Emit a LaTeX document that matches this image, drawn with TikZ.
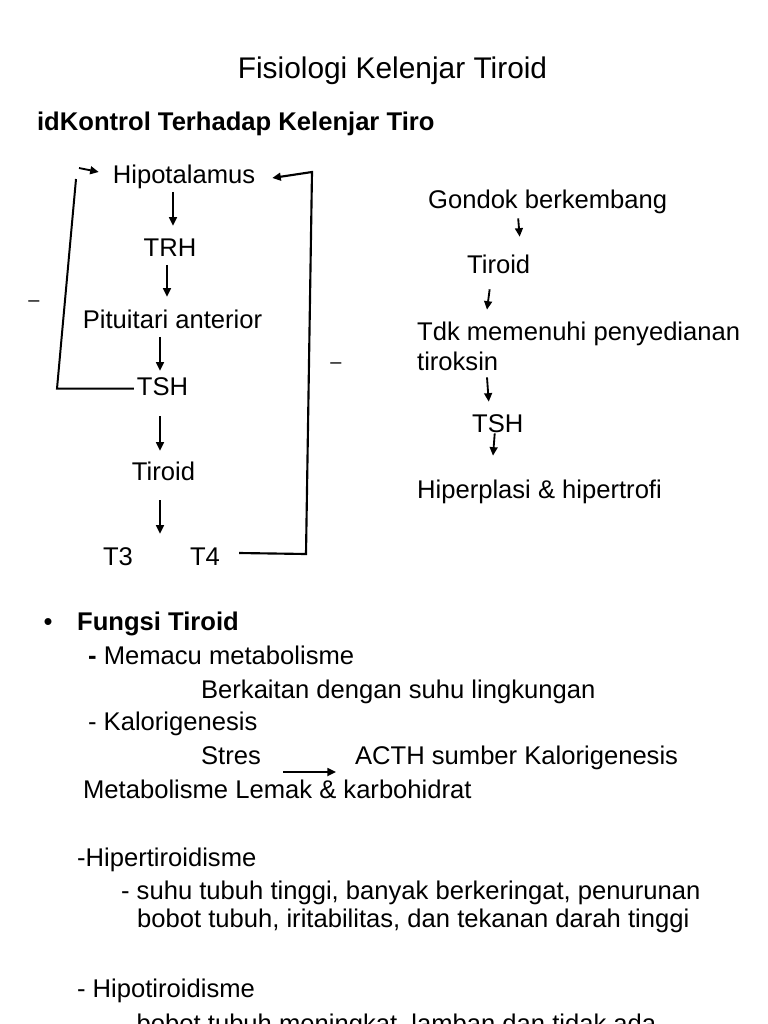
\documentclass[tikz,border=0pt]{standalone}
\usepackage{fontspec}
\setmainfont{Liberation Sans}
\usepackage{tikz}
\usetikzlibrary{arrows.meta, calc}

\begin{document}
\begin{tikzpicture}[x=0.703125pt, y=-0.703125pt,
  txt/.style={inner sep=2pt, font=\fontsize{18}{21.6}\selectfont,
              text height=13pt, text depth=4pt},
  lft/.style={txt, anchor=base west},
  mid/.style={txt, anchor=base},
  arrow/.style={-{Triangle[length=6pt, width=5.5pt]}, line width=1.3pt},
  fb/.style={line width=1.4pt},
  minus/.style={font=\fontsize{14}{14}\selectfont, anchor=base},
]
  \useasboundingbox (0,0) rectangle (768,1024);
  \clip (0,0) rectangle (768,1024);

  \node[anchor=base, font=\fontsize{21}{25}\selectfont] (title) at (392.5,78)
    {Fisiologi Kelenjar Tiroid};
  \node[lft, font=\fontsize{18}{21.6}\selectfont\bfseries] (kontrol) at (34,130)
    {idKontrol Terhadap Kelenjar Tiro};

  % left chain
  \node[mid] (hipo) at (184,183) {Hipotalamus};
  \node[mid] (trh) at (170,256) {TRH};
  \node[mid] (pit) at (172.5,328) {Pituitari anterior};
  \node[mid] (tsh) at (162.5,395) {TSH};
  \node[mid] (tir) at (163.5,480) {Tiroid};
  \node[mid] (t3) at (118,565) {T3};
  \node[mid] (t4) at (205,565) {T4};

  \draw[arrow] ($(hipo.south)+(-11,0)$) -- ($(trh.north)+(3,-8.7)$);
  \draw[arrow] ($(trh.south)+(-3,0)$) -- ($(pit.north)+(-5.5,-9.7)$);
  \draw[arrow] ($(pit.south)+(-12.5,0)$) -- ($(tsh.north)+(-2.5,-2.7)$);
  \draw[arrow] ($(tsh.south)+(-2.5,12.5)$) -- ($(tir.north)+(-3.5,-7.7)$);
  \draw[arrow] ($(tir.south)+(-3.5,11.5)$) -- ($(t3.north)!0.5!(t4.north)+(-1.5,-9.7)$);

  % feedback loops
  \coordinate (lcorner) at (57,384);
  \coordinate (ltop) at (76,179);
  \coordinate (lstart) at (79,168);
  \draw[fb] (tsh.west) -- (tsh.west -| lcorner) -- (ltop);
  \draw[arrow] (lstart) -- ($(hipo.west)+(-11,-4.6)$);

  \coordinate (rcorner) at (306,554);
  \coordinate (rtop) at (312,172);
  \draw[arrow, line width=1.5pt] ($(t4.east)+(16,-5.6)$) -- (rcorner) -- (rtop)
    -- ($(hipo.east)+(14,1.4)$);

  \node[minus] (minl) at (34,306) {–};
  \node[minus] (minr) at (336,368) {–};

  % right chain
  \node[lft] (gondok) at (425,208) {Gondok berkembang};
  \node[lft] (rtir) at (464,273) {Tiroid};
  \node[lft] (tdk) at (414,340) {Tdk memenuhi penyedianan};
  \node[lft] (tiroksin) at (414,370) {tiroksin};
  \node[lft] (rtsh) at (469,432) {TSH};
  \node[lft] (hyp) at (414,498) {Hiperplasi \& hipertrofi};

  \draw[arrow] ($(gondok.south)+(-29.5,1.5)$) -- ($(rtir.north)+(21,-14.7)$);
  \draw[arrow] ($(rtir.south)+(-9,7.5)$) -- ($(tdk.north west)+(73,-8.7)$);
  \draw[arrow] ($(tiroksin.south west)+(73,-1.5)$) -- ($(rtsh.north)+(-9,-8.7)$);
  \draw[arrow] ($(rtsh.south)+(-3,-7.5)$) -- ($(hyp.north west)+(79,-20.7)$);

  % fungsi tiroid
  \node[mid] (bullet) at (48,630) {•};
  \node[lft, font=\fontsize{18}{21.6}\selectfont\bfseries] (fungsi) at (74,630)
    {Fungsi Tiroid};
  \node[lft] (memacu) at (85,664) {\textbf{-} Memacu metabolisme};
  \node[lft] (suhu) at (198,698) {Berkaitan dengan suhu lingkungan};
  \node[lft] (kalori) at (85,730) {- Kalorigenesis};
  \node[lft] (stres) at (198,764) {Stres};
  \node[lft] (acth) at (352,764) {ACTH sumber Kalorigenesis};
  \node[lft] (lemak) at (80,798) {Metabolisme Lemak \& karbohidrat};
  \draw[arrow, line width=1.6pt] ($(stres.base east)+(19,8)$) -- ($(acth.base west)+(-16,8)$);

  \node[lft] (hiper) at (74,866) {-Hipertiroidisme};
  \node[lft] (hiper1) at (118,899) {- suhu tubuh tinggi, banyak berkeringat, penurunan};
  \node[lft] (hiper2) at (134,927) {bobot tubuh, iritabilitas, dan tekanan darah tinggi};
  \node[lft] (hipo2) at (74,997) {- Hipotiroidisme};
  \node[lft] (hipo3) at (118,1032) {- bobot tubuh meningkat, lamban dan tidak ada};
\end{tikzpicture}
\end{document}
